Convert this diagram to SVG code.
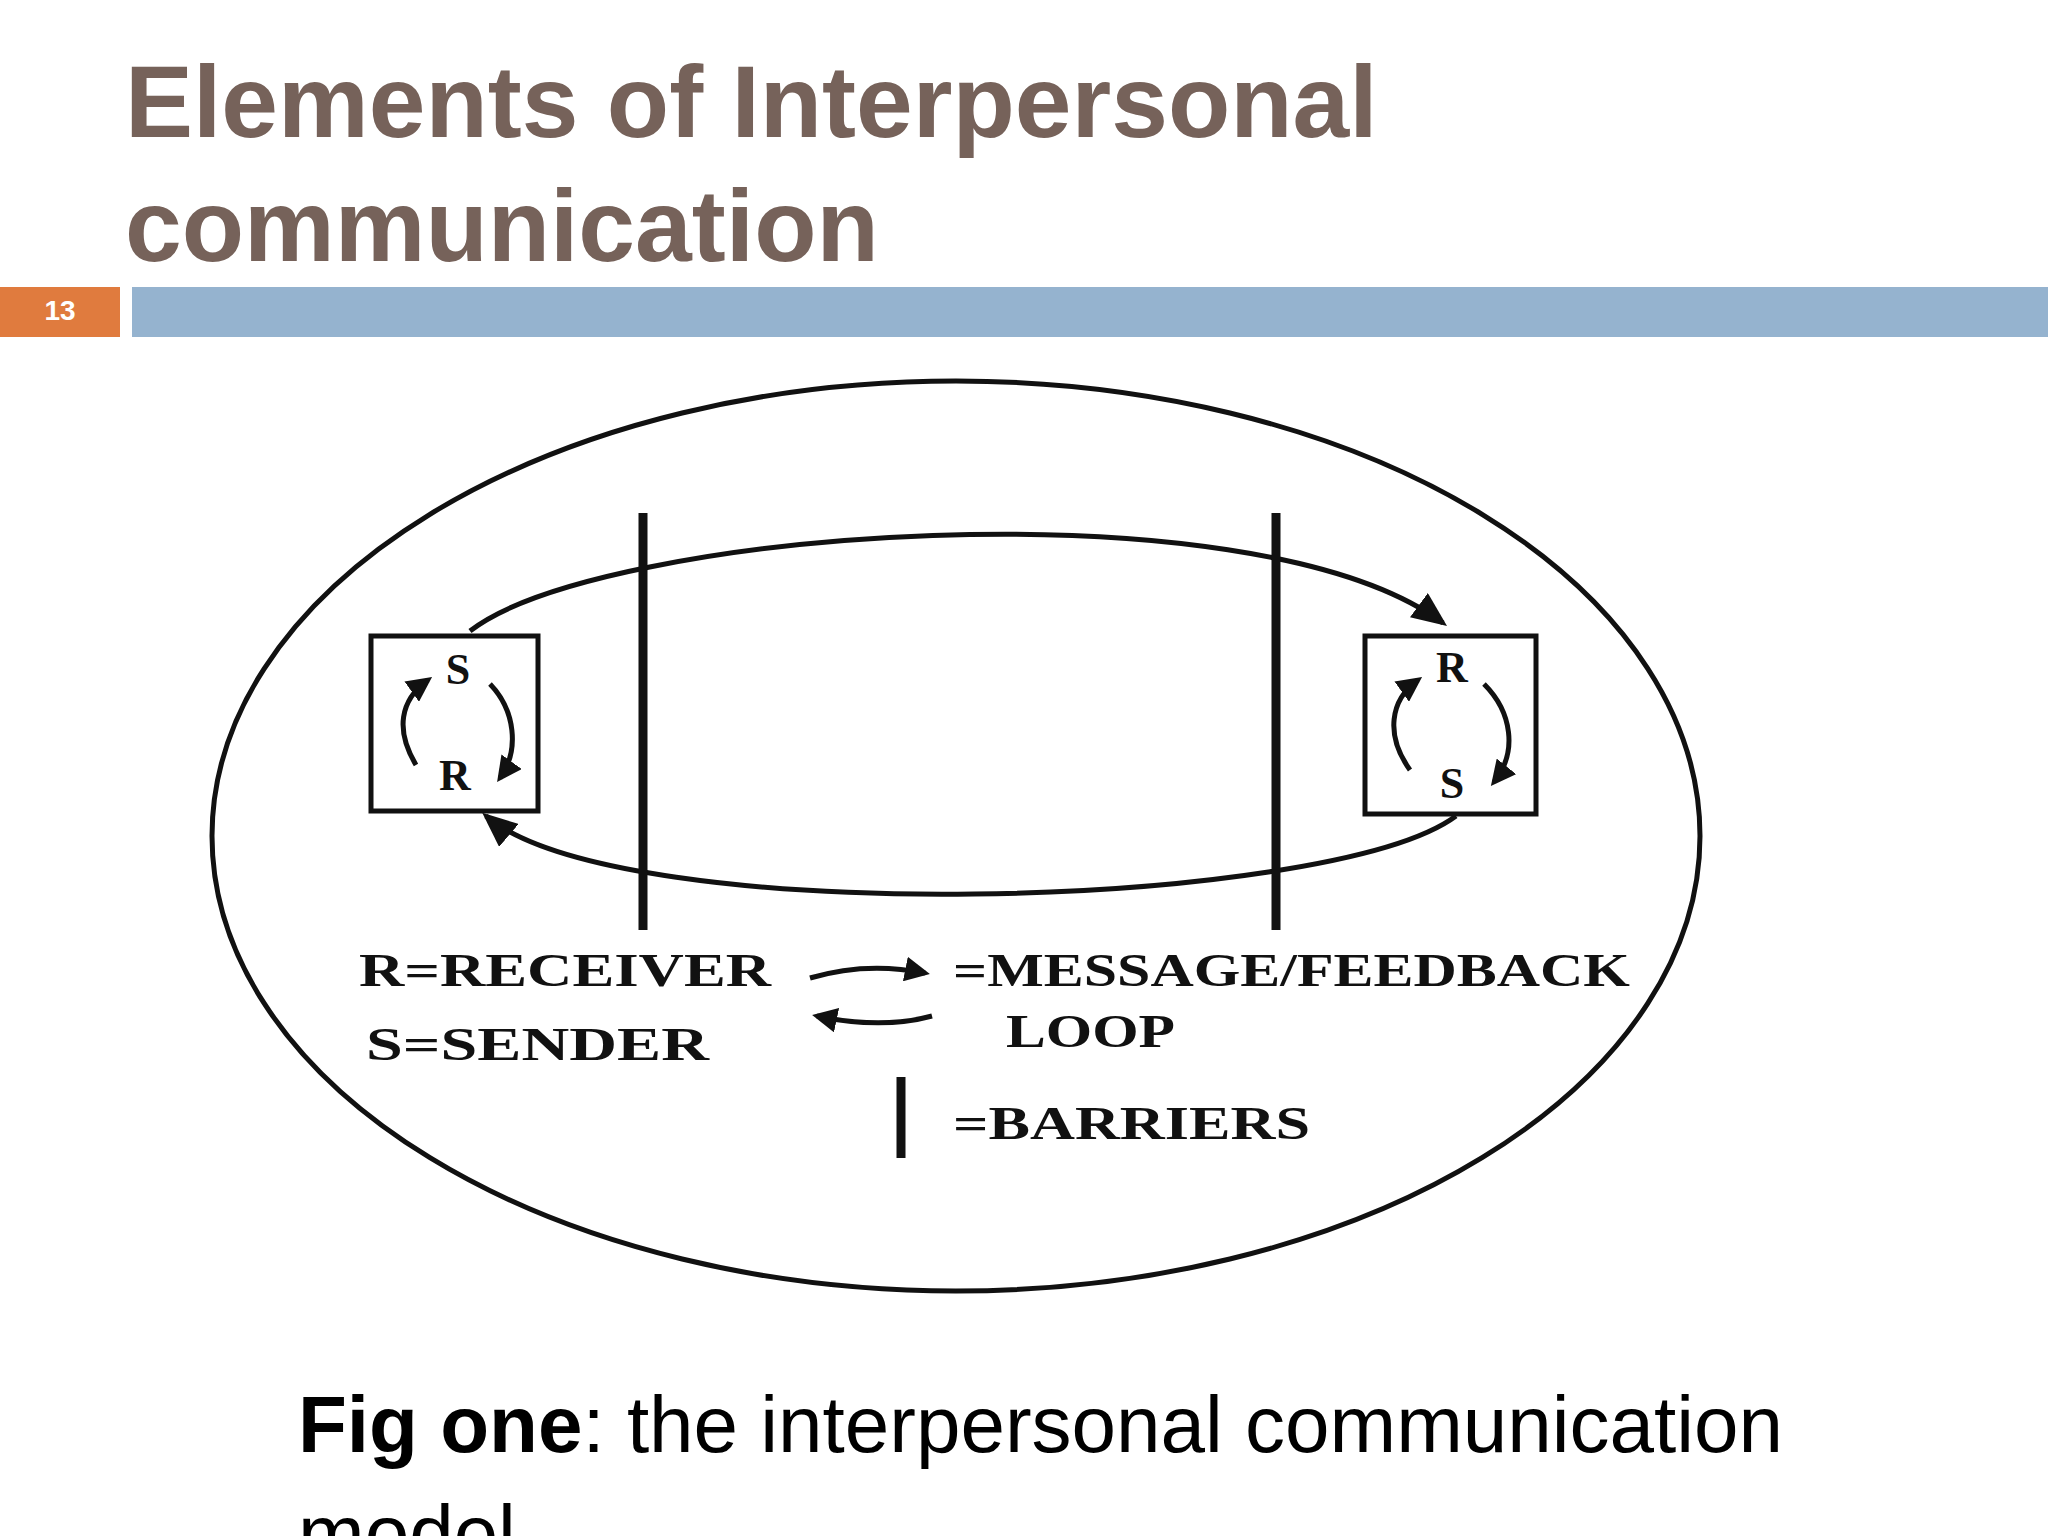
<svg xmlns="http://www.w3.org/2000/svg" width="2048" height="1536" viewBox="0 0 2048 1536">
<defs>
<style>
.t{font-family:"Liberation Sans",Arial,sans-serif;font-weight:bold;fill:#76625a;font-size:102px}
.l{font-family:"Liberation Serif","Times New Roman",serif;font-weight:bold;fill:#111;font-size:46px}
.b{font-family:"Liberation Serif","Times New Roman",serif;font-weight:bold;fill:#111;font-size:44px}
.ln{fill:none;stroke:#111;stroke-width:5}
.c{font-family:"Liberation Sans",Arial,sans-serif;font-size:80px;fill:#000}
</style>
<marker id="ah" markerWidth="7" markerHeight="6" refX="6" refY="3" orient="auto" markerUnits="strokeWidth">
<path d="M0,0 L7,3 L0,6 z" fill="#111"/>
</marker>
<marker id="ahs" markerWidth="5" markerHeight="5" refX="4" refY="2.5" orient="auto" markerUnits="strokeWidth">
<path d="M0,0 L5,2.5 L0,5 z" fill="#111"/>
</marker>
</defs>
<rect width="2048" height="1536" fill="#fff"/>
<g id="title">
<text class="t" x="125" y="137">Elements of Interpersonal</text>
<text class="t" x="125" y="261">communication</text>
</g>
<g id="header-bar">
<rect x="0" y="287" width="120" height="50" fill="#e07b3e"/>
<text x="60" y="320" text-anchor="middle" font-family="Liberation Sans,Arial,sans-serif" font-weight="bold" font-size="28" fill="#fff">13</text>
<rect x="132" y="287" width="1916" height="50" fill="#95b3cf"/>
</g>
<g id="outer">
<ellipse cx="956" cy="836" rx="744" ry="455" class="ln" stroke-width="6"/>
</g>
<g id="connectors">
<path d="M470,631 C600,530 1250,480 1443,623" class="ln" stroke-width="4" marker-end="url(#ah)"/>
<path d="M1456,816 C1330,910 620,930 486,816" class="ln" stroke-width="4" marker-end="url(#ah)"/>
</g>
<g id="barriers">
<line x1="643" y1="513" x2="643" y2="930" stroke="#111" stroke-width="9"/>
<line x1="1276" y1="513" x2="1276" y2="930" stroke="#111" stroke-width="9"/>
</g>
<g id="left-box">
<rect x="371" y="636" width="167" height="175" class="ln"/>
<text class="b" x="458" y="684" text-anchor="middle">S</text>
<text class="b" x="455" y="790" text-anchor="middle">R</text>
<path d="M416,765 C395,730 400,700 428,680" class="ln" stroke-width="5" marker-end="url(#ahs)"/>
<path d="M490,684 C515,710 520,750 500,778" class="ln" stroke-width="5" marker-end="url(#ahs)"/>
</g>
<g id="right-box">
<rect x="1365" y="636" width="171" height="178" class="ln"/>
<text class="b" x="1452" y="682" text-anchor="middle">R</text>
<text class="b" x="1452" y="798" text-anchor="middle">S</text>
<path d="M1410,770 C1385,735 1390,700 1418,680" class="ln" stroke-width="5" marker-end="url(#ahs)"/>
<path d="M1484,684 C1512,712 1518,752 1494,782" class="ln" stroke-width="5" marker-end="url(#ahs)"/>
</g>
<g id="legend">
<text class="l" x="359" y="986" textLength="412" lengthAdjust="spacingAndGlyphs">R=RECEIVER</text>
<text class="l" x="366" y="1060" textLength="343" lengthAdjust="spacingAndGlyphs">S=SENDER</text>
<path d="M810,978 C850,966 890,966 925,973" class="ln" stroke-width="4" marker-end="url(#ahs)"/>
<path d="M932,1016 C895,1026 855,1024 817,1016" class="ln" stroke-width="4" marker-end="url(#ahs)"/>
<text class="l" x="953" y="986" textLength="677" lengthAdjust="spacingAndGlyphs">=MESSAGE/FEEDBACK</text>
<text class="l" x="1006" y="1047" textLength="169" lengthAdjust="spacingAndGlyphs">LOOP</text>
<line x1="901" y1="1077" x2="901" y2="1158" stroke="#111" stroke-width="9"/>
<text class="l" x="953" y="1139" textLength="357" lengthAdjust="spacingAndGlyphs">=BARRIERS</text>
</g>
<g id="caption">
<text class="c" x="298" y="1452"><tspan font-weight="bold">Fig one</tspan>: the interpersonal communication</text>
<text class="c" x="298" y="1561">model</text>
</g>
</svg>
